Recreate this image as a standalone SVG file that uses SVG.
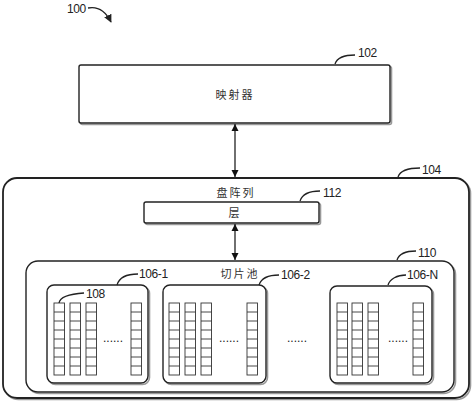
<svg xmlns="http://www.w3.org/2000/svg" xmlns:xlink="http://www.w3.org/1999/xlink" width="474" height="406" viewBox="0 0 474 406">
<style>
.box{fill:#fff;stroke:#222;stroke-width:1.4}
.sh{fill:none;stroke:#999;stroke-width:1.6}
.zh{font-family:"Noto Sans CJK SC","Noto Sans CJK JP",sans-serif;font-size:11px;letter-spacing:2px;fill:#333;text-anchor:middle}
.num{font-family:"Liberation Sans",Arial,sans-serif;font-size:12px;fill:#222;letter-spacing:-0.4px}
.lead{fill:none;stroke:#222;stroke-width:1.3}
.cell{fill:#fff;stroke:#333;stroke-width:0.9}
.dots{font-family:"Liberation Sans",Arial,sans-serif;font-size:12px;fill:#222}
.conn{stroke:#222;stroke-width:1.3;fill:none}
</style>
<defs>
<marker id="ah" viewBox="0 0 10 10" refX="10" refY="5" markerWidth="7" markerHeight="8" markerUnits="userSpaceOnUse" orient="auto-start-reverse">
<path d="M0,0 L10,5 L0,10 Z" fill="#111"/>
</marker>
<marker id="ah2" viewBox="0 0 10 10" refX="9" refY="5" markerWidth="8" markerHeight="8" markerUnits="userSpaceOnUse" orient="auto">
<path d="M0,0 L10,5 L0,10 Z" fill="#222"/>
</marker>
<g id="col">
<rect class="cell" x="0" y="303" width="10.5" height="72"/>
<path class="cell" d="M0,312H10.5M0,321H10.5M0,330H10.5M0,339H10.5M0,348H10.5M0,357H10.5M0,366H10.5"/>
</g>
</defs>

<g id="label-100">
<text class="num" x="67" y="13">100</text>
<path class="lead" d="M88,8 C98,6 106,12 111,22" marker-end="url(#ah2)"/>
</g>

<g id="node-102">
<rect class="sh" x="80.5" y="66.5" width="311" height="58" rx="2"/>
<rect class="box" x="79" y="65" width="311" height="58" rx="2"/>
<text class="zh" x="235" y="99">映射器</text>
<path class="lead" d="M335,64 C337,58 344,55 355,55"/>
<text class="num" x="358" y="57">102</text>
</g>

<g id="node-104">
<rect class="sh" x="4.5" y="179.5" width="466" height="220" rx="14"/>
<rect class="box" x="3" y="178" width="466" height="220" rx="14" style="stroke-width:1.8"/>
<text class="zh" x="236" y="197">盘阵列</text>
<path class="lead" d="M398,177 C400,171 408,168 420,168"/>
<text class="num" x="422" y="174">104</text>
</g>

<g id="node-112">
<rect class="sh" x="145.5" y="203.5" width="175" height="21" rx="2"/>
<rect class="box" x="144" y="202" width="175" height="21" rx="2"/>
<text class="zh" x="235" y="217">层</text>
<path class="lead" d="M300,201 C302,195 309,191 320,191"/>
<text class="num" x="323" y="197">112</text>
</g>

<g id="node-110">
<rect class="sh" x="27.5" y="262.5" width="428" height="131" rx="12"/>
<rect class="box" x="26" y="261" width="428" height="131" rx="12"/>
<text class="zh" x="240" y="278">切片池</text>
<path class="lead" d="M397,260 C399,254 406,251 416,251"/>
<text class="num" x="418" y="257">110</text>
</g>

<g id="node-106-1">
<rect class="sh" x="48.5" y="286.5" width="101" height="98" rx="7"/>
<rect class="box" x="47" y="285" width="101" height="98" rx="7"/>
<use xlink:href="#col" x="54"/>
<use xlink:href="#col" x="70"/>
<use xlink:href="#col" x="86"/>
<use xlink:href="#col" x="131"/>
<text class="dots" x="103" y="342">......</text>
<path class="lead" d="M117,285 C119,278 126,274 138,274"/>
<text class="num" x="139" y="278">106-1</text>
<path class="lead" d="M59,303 C60,297 68,294 84,293"/>
<text class="num" x="86" y="298">108</text>
</g>

<g id="node-106-2">
<rect class="sh" x="164.5" y="286.5" width="103" height="98" rx="7"/>
<rect class="box" x="163" y="285" width="103" height="98" rx="7"/>
<use xlink:href="#col" x="169"/>
<use xlink:href="#col" x="185"/>
<use xlink:href="#col" x="201"/>
<use xlink:href="#col" x="247"/>
<text class="dots" x="219" y="342">......</text>
<path class="lead" d="M259,285 C261,279 268,275 279,275"/>
<text class="num" x="281" y="279">106-2</text>
</g>

<g id="gap-dots">
<text class="dots" x="287" y="342">......</text>
</g>

<g id="node-106-N">
<rect class="sh" x="331.5" y="287.5" width="102" height="97" rx="7"/>
<rect class="box" x="330" y="286" width="102" height="97" rx="7"/>
<use xlink:href="#col" x="337"/>
<use xlink:href="#col" x="352"/>
<use xlink:href="#col" x="368"/>
<use xlink:href="#col" x="413"/>
<text class="dots" x="388" y="342">......</text>
<path class="lead" d="M388,285 C390,279 397,275 406,275"/>
<text class="num" x="407" y="279">106-N</text>
</g>

<g id="connectors">
<line class="conn" x1="235" y1="124" x2="235" y2="177" marker-start="url(#ah)" marker-end="url(#ah)"/>
<line class="conn" x1="235" y1="224" x2="235" y2="260" marker-start="url(#ah)" marker-end="url(#ah)"/>
</g>
</svg>
